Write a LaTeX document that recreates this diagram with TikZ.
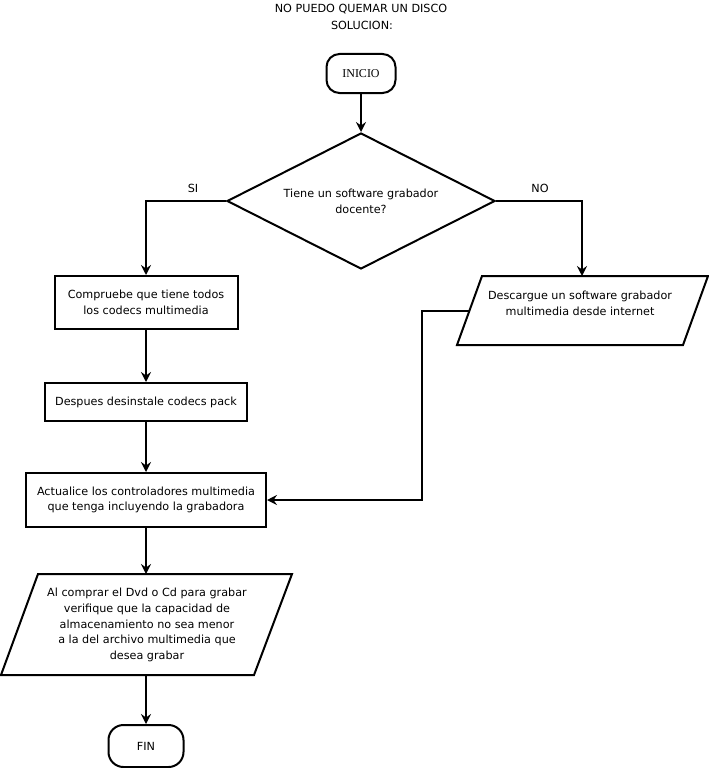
\documentclass[tikz,border=0pt]{standalone}
\usepackage{fontspec}
\setmainfont{DejaVu Sans}
\newfontfamily\serifface{Liberation Serif}
\usetikzlibrary{shapes.geometric,arrows.meta}
\tikzset{
  every node/.style={font=\fontsize{11.2}{15.8}\selectfont, align=center},
  line/.style={line width=2pt},
  arr/.style={line width=2pt, -{Stealth[length=10pt,width=10pt,inset=3.5pt]}},
  procbox/.style={draw, line width=2pt, rectangle, inner sep=0pt},
  term/.style={draw, line width=2pt, rectangle, rounded corners=13pt, inner sep=0pt},
  lbl/.style={inner sep=0pt}
}
\begin{document}
\begin{tikzpicture}[x=1pt,y=-1pt]
\useasboundingbox (0,0) rectangle (709,768);
% title
\node[lbl] (t1) at (361,9) {NO PUEDO QUEMAR UN DISCO};
\node[lbl] (t2) at (362,25) {SOLUCION:};
% start
\node[term, minimum width=69pt, minimum height=39pt, font=\serifface\fontsize{12}{14}\selectfont] (ini) at (361,73.5) {INICIO};
% decision
\node[draw, diamond, line width=2pt, minimum width=268pt, minimum height=136pt, inner sep=0pt] (dec) at (361,201) {};
\node[lbl] (dect) at (361,201.5) {Tiene un software grabador\\docente?};
\node[lbl] (si) at (193,188) {SI};
\node[lbl] (no) at (540,188) {NO};
% left column
\node[procbox, minimum width=183pt, minimum height=53pt] (b1) at (146,302.5) {Compruebe que tiene todos\\los codecs multimedia};
\node[procbox, minimum width=202pt, minimum height=38pt] (b2) at (146,402) {Despues desinstale codecs pack};
\node[procbox, minimum width=240pt, minimum height=54pt] (b3) at (146,500) {Actualice los controladores multimedia\\que tenga incluyendo la grabadora};
% right parallelogram
\draw[line] (482,276) -- (708,276) -- (683,345) -- (457,345) -- cycle;
\coordinate (pn) at (582,276);
\coordinate (pw) at (469.3,311);
\node[lbl] (pt) at (580,303.5) {Descargue un software grabador\\multimedia desde internet};
% bottom parallelogram
\draw[line] (38,574) -- (292,574) -- (254,675) -- (1,675) -- cycle;
\coordinate (qn) at (146,574);
\coordinate (qs) at (146,675);
\node[lbl] (qt) at (147,625) {Al comprar el Dvd o Cd para grabar\\verifique que la capacidad de\\almacenamiento no sea menor\\a la del archivo multimedia que\\desea grabar};
% end
\node[term, minimum width=75pt, minimum height=42pt, rounded corners=15pt] (fin) at (146,746) {FIN};
% connectors
\draw[arr] (ini.south) -- (dec.north);
\draw[arr] (dec.west) -| (b1.north);
\draw[arr] (dec.east) -| (pn);
\draw[arr] (b1.south) -- (b2.north);
\draw[arr] (b2.south) -- (b3.north);
\draw[arr] (pw) -- (422,311) |- (b3.east);
\draw[arr] (b3.south) -- (qn);
\draw[arr] (qs) -- (fin.north);
\end{tikzpicture}
\end{document}
